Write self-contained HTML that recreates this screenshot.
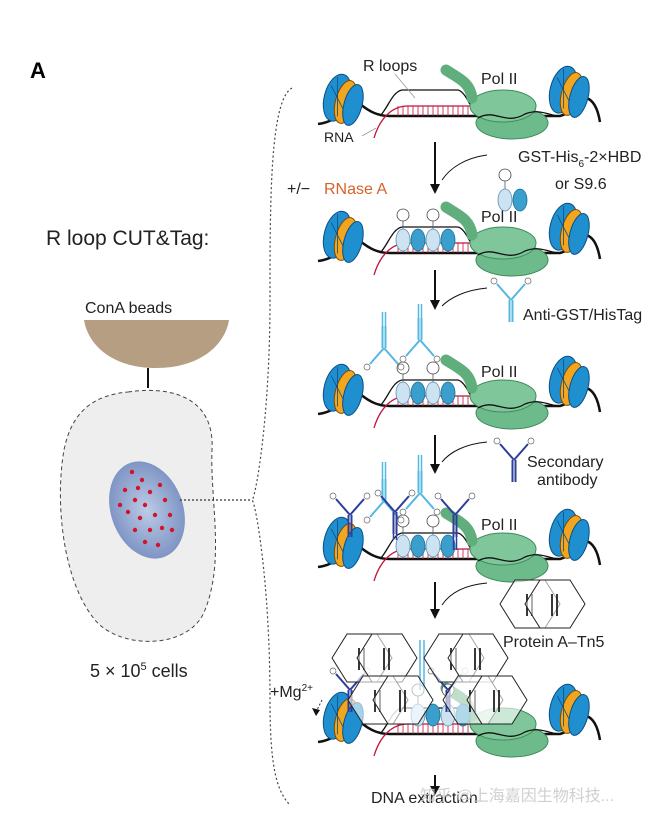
<!DOCTYPE html>
<html><head><meta charset="utf-8"><style>
html,body{margin:0;padding:0;background:#fff}
svg{display:block}
text{font-family:"Liberation Sans","Noto Sans CJK SC",sans-serif}
</style></head><body>
<svg width="670" height="823" viewBox="0 0 670 823" xmlns="http://www.w3.org/2000/svg">
<defs>
<radialGradient id="nuc" cx="50%" cy="50%" r="50%">
<stop offset="0" stop-color="#bccbe6"/><stop offset="1" stop-color="#7f95c4"/></radialGradient>
<g id="nucl">
 <g transform="rotate(15)">
 <ellipse cx="-9" cy="0" rx="13" ry="24" fill="#1f8fd0" stroke="#0b4f86" stroke-width="1"/>
 <ellipse cx="0" cy="2" rx="10" ry="22" fill="#f2a51f" stroke="#7a4a00" stroke-width="1"/>
 <ellipse cx="8" cy="3" rx="9" ry="21" fill="#1f8fd0" stroke="#0b4f86" stroke-width="1"/>
 <path d="M-18,-10 L0,10 M-14,-20 L-4,18" stroke="#0b4f86" stroke-width="0.8"/>
 </g>
</g>
<g id="row">
 <path d="M318,124 C335,122 340,112 346,112 M360,104 C370,112 378,116 390,116 L480,116 L560,116 C575,112 578,100 580,100 M586,98 C594,100 598,110 600,122" stroke="#111" stroke-width="2.5" fill="none"/>
 <path d="M380,116 C388,108 392,92 402,90 L458,90 C466,92 470,108 478,116" stroke="#111" stroke-width="1.3" fill="none"/>
 <path d="M374,138 C380,118 392,106 408,106 L475,106 C495,106 505,118 525,112" stroke="#c0143c" stroke-width="1.3" fill="none"/>
 <path d="M398,106v10M403,106v10M408,106v10M413,106v10M418,106v10M423,106v10M428,106v10M433,106v10M438,106v10M443,106v10M448,106v10M453,106v10M458,106v10M463,106v10M468,106v10" stroke="#c0143c" stroke-width="0.8"/>
 <ellipse cx="512" cy="123" rx="36" ry="16" fill="#6dbb8b" stroke="#3f8a5c"/>
 <ellipse cx="503" cy="106" rx="33" ry="16" fill="#7fc79b" stroke="#3f8a5c"/>
 <path d="M478,118 C495,108 505,126 525,114 C540,108 550,116 560,116" stroke="#111" stroke-width="1.3" fill="none"/>
 <path d="M446,70 C458,78 470,82 472,98" stroke="#5fae7b" stroke-width="11" stroke-linecap="round" fill="none"/>
 <use href="#nucl" transform="translate(346,100)"/>
 <use href="#nucl" transform="translate(572,92)"/>
</g>
<g id="hbd">
 <line x1="0" y1="-14" x2="0" y2="-4" stroke="#555" stroke-width="0.8"/>
 <circle cx="0" cy="-20" r="6" fill="#fff" stroke="#444" stroke-width="0.8"/>
 <ellipse cx="0" cy="5" rx="7" ry="11" fill="#cde3f2" stroke="#5b8fb0" stroke-width="0.8"/>
 <ellipse cx="15" cy="5" rx="7" ry="11" fill="#3a9fcc" stroke="#1e6f95" stroke-width="0.8"/>
</g>
<g id="ab" fill="none" stroke-width="2">
 <path d="M-1.5,0 V-22 M1.5,0 V-22 M0,0 L-14,16 M0,0 L14,16"/>
 <circle cx="-17" cy="19" r="3" fill="#fff" stroke="#666" stroke-width="0.7"/>
 <circle cx="17" cy="19" r="3" fill="#fff" stroke="#666" stroke-width="0.7"/>
</g>
<g id="hex" fill="#fff" fill-opacity="0.6" stroke="#222" stroke-width="1">
 <polygon points="-30,0 -15,-24 15,-24 30,0 15,24 -15,24"/>
 <path d="M-3,-10v22M2,-10v22" stroke-width="1.8"/>
</g>
</defs>

<!-- left panel -->
<text x="30" y="78" font-size="22" font-weight="bold">A</text>
<text x="46" y="245" font-size="21" fill="#222">R loop CUT&amp;Tag:</text>
<text x="85" y="313" font-size="16" fill="#222">ConA beads</text>
<path d="M84,320 H229 C225,345 200,368 156,368 C112,368 88,345 84,320 Z" fill="#b59e82"/>
<line x1="148" y1="368" x2="148" y2="388" stroke="#111" stroke-width="2"/>
<path d="M128,392 C175,385 215,400 212,450 C210,500 225,560 205,610 C190,650 120,650 95,620 C62,580 55,500 64,450 C72,410 95,395 128,392 Z" fill="#eeeeee" stroke="#444" stroke-width="1" stroke-dasharray="4,3"/>
<ellipse cx="147" cy="510" rx="36" ry="50" transform="rotate(-20 147 510)" fill="url(#nuc)"/>
<g fill="#d4122a">
<circle cx="132" cy="472" r="2.2"/><circle cx="142" cy="480" r="2.2"/><circle cx="125" cy="490" r="2.2"/><circle cx="150" cy="492" r="2.2"/><circle cx="160" cy="485" r="2.2"/><circle cx="135" cy="500" r="2.2"/><circle cx="145" cy="505" r="2.2"/><circle cx="165" cy="500" r="2.2"/><circle cx="128" cy="512" r="2.2"/><circle cx="140" cy="518" r="2.2"/><circle cx="155" cy="515" r="2.2"/><circle cx="170" cy="515" r="2.2"/><circle cx="135" cy="530" r="2.2"/><circle cx="150" cy="530" r="2.2"/><circle cx="162" cy="528" r="2.2"/><circle cx="145" cy="542" r="2.2"/><circle cx="158" cy="545" r="2.2"/><circle cx="120" cy="505" r="2.2"/><circle cx="172" cy="530" r="2.2"/><circle cx="138" cy="488" r="2.2"/>
</g>
<line x1="180" y1="500" x2="250" y2="500" stroke="#333" stroke-width="1.2" stroke-dasharray="2,2"/>
<text x="90" y="677" font-size="18" fill="#222">5 × 10<tspan font-size="11" dy="-7">5</tspan><tspan dy="7"> cells</tspan></text>
<path d="M292,88 C270,100 270,200 270,300 C270,420 255,500 252,500 C255,500 270,580 270,700 C270,760 275,790 290,805" fill="none" stroke="#444" stroke-width="1.2" stroke-dasharray="2,2.5"/>

<!-- rows -->
<use href="#row"/>
<use href="#row" transform="translate(0,137)"/>
<use href="#row" transform="translate(0,290)"/>
<use href="#row" transform="translate(0,443)"/>
<use href="#row" transform="translate(0,618)"/>

<!-- row1 labels -->
<text x="363" y="71" font-size="16" fill="#222">R loops</text>
<line x1="395" y1="74" x2="415" y2="98" stroke="#999" stroke-width="0.8"/>
<text x="481" y="84" font-size="16" fill="#222">Pol II</text>
<text x="324" y="142" font-size="14" fill="#222">RNA</text>
<line x1="362" y1="136" x2="376" y2="128" stroke="#999" stroke-width="0.8"/>

<!-- arrow 1 -->
<path d="M435,142 V190" stroke="#111" stroke-width="2"/><path d="M430,184 L435,194 L440,184 Z" fill="#111"/>
<path d="M487,155 C465,158 450,168 442,180" fill="none" stroke="#111" stroke-width="1"/>
<use href="#hbd" transform="translate(505,195)"/>
<text x="518" y="162" font-size="16" fill="#222">GST-His<tspan font-size="10" dy="5">6</tspan><tspan dy="-5">-2×HBD</tspan></text>
<text x="555" y="189" font-size="16" fill="#222">or S9.6</text>
<text x="287" y="194" font-size="16" fill="#222">+/−</text>
<text x="324" y="194" font-size="16" fill="#d4632a">RNase A</text>

<!-- row2 -->
<use href="#hbd" transform="translate(403,235)"/><use href="#hbd" transform="translate(433,235)"/>
<text x="481" y="222" font-size="16" fill="#222">Pol II</text>

<!-- arrow 2 -->
<path d="M435,270 V306" stroke="#111" stroke-width="2"/><path d="M430,300 L435,310 L440,300 Z" fill="#111"/>
<path d="M487,288 C465,290 450,298 442,306" fill="none" stroke="#111" stroke-width="1"/>
<use href="#ab" transform="translate(511,300) rotate(180)" stroke="#55b8e0"/>
<text x="523" y="320" font-size="16" fill="#222">Anti-GST/HisTag</text>

<!-- row3 -->
<use href="#hbd" transform="translate(403,388)"/><use href="#hbd" transform="translate(433,388)"/>
<use href="#ab" transform="translate(384,348)" stroke="#55b8e0"/>
<use href="#ab" transform="translate(420,340)" stroke="#55b8e0"/>
<path d="M382.5,330V312M385.5,330V312M418.5,322V304M421.5,322V304" stroke="#55b8e0" stroke-width="1.5"/>
<text x="481" y="377" font-size="16" fill="#222">Pol II</text>

<!-- arrow 3 -->
<path d="M435,435 V470" stroke="#111" stroke-width="2"/><path d="M430,464 L435,474 L440,464 Z" fill="#111"/>
<path d="M487,442 C465,444 450,452 442,462" fill="none" stroke="#111" stroke-width="1"/>
<use href="#ab" transform="translate(514,460) rotate(180)" stroke="#2d3d9a"/>
<text x="527" y="467" font-size="16" fill="#222">Secondary</text>
<text x="537" y="485" font-size="16" fill="#222">antibody</text>

<!-- row4 -->
<use href="#hbd" transform="translate(403,541)"/><use href="#hbd" transform="translate(433,541)"/>
<use href="#ab" transform="translate(384,501)" stroke="#55b8e0"/>
<use href="#ab" transform="translate(420,493)" stroke="#55b8e0"/>
<path d="M382.5,483V462M385.5,483V462M418.5,475V455M421.5,475V455" stroke="#55b8e0" stroke-width="1.5"/>
<use href="#ab" transform="translate(350,515) rotate(180)" stroke="#2d3d9a"/>
<use href="#ab" transform="translate(395,512) rotate(180)" stroke="#2d3d9a"/>
<use href="#ab" transform="translate(455,515) rotate(180)" stroke="#2d3d9a"/>
<path d="M393.5,534V540M396.5,534V540M453.5,537V550M456.5,537V550" stroke="#2d3d9a" stroke-width="1.5"/>
<text x="481" y="530" font-size="16" fill="#222">Pol II</text>

<!-- arrow 4 -->
<path d="M435,582 V615" stroke="#111" stroke-width="2"/><path d="M430,609 L435,619 L440,609 Z" fill="#111"/>
<path d="M487,583 C465,585 450,593 442,605" fill="none" stroke="#111" stroke-width="1"/>
<use href="#hex" transform="translate(530,604)"/>
<use href="#hex" transform="translate(555,604)"/>
<text x="503" y="647" font-size="16" fill="#222">Protein A–Tn5</text>

<!-- row5 -->
<use href="#hbd" transform="translate(418,710)"/><use href="#hbd" transform="translate(448,710)"/>
<path d="M420,690V640M424,690V640" stroke="#55b8e0" stroke-width="1.5"/>
<use href="#ab" transform="translate(350,690) rotate(180)" stroke="#2d3d9a"/>
<use href="#ab" transform="translate(448,690) rotate(180)" stroke="#2d3d9a"/>
<use href="#hex" transform="translate(362,658)"/><use href="#hex" transform="translate(387,658)"/>
<use href="#hex" transform="translate(454,658)"/><use href="#hex" transform="translate(478,658)"/>
<use href="#hex" transform="translate(378,700)"/><use href="#hex" transform="translate(403,700)"/>
<use href="#hex" transform="translate(473,700)"/><use href="#hex" transform="translate(497,700)"/>
<text x="270" y="697" font-size="16" fill="#222">+Mg<tspan font-size="10" dy="-6">2+</tspan></text>
<path d="M322,700 L316,712" stroke="#333" stroke-dasharray="2,2"/><path d="M312,708 L316,716 L320,710Z" fill="#111"/>
<path d="M435,775 V790" stroke="#111" stroke-width="2"/><path d="M430,786 L435,795 L440,786 Z" fill="#111"/>
<text x="371" y="803" font-size="16" fill="#222">DNA extraction</text>
<text x="420" y="801" font-size="16" fill="#c8c8c8" fill-opacity="0.85">知乎 @上海嘉因生物科技...</text>
</svg>
</body></html>
